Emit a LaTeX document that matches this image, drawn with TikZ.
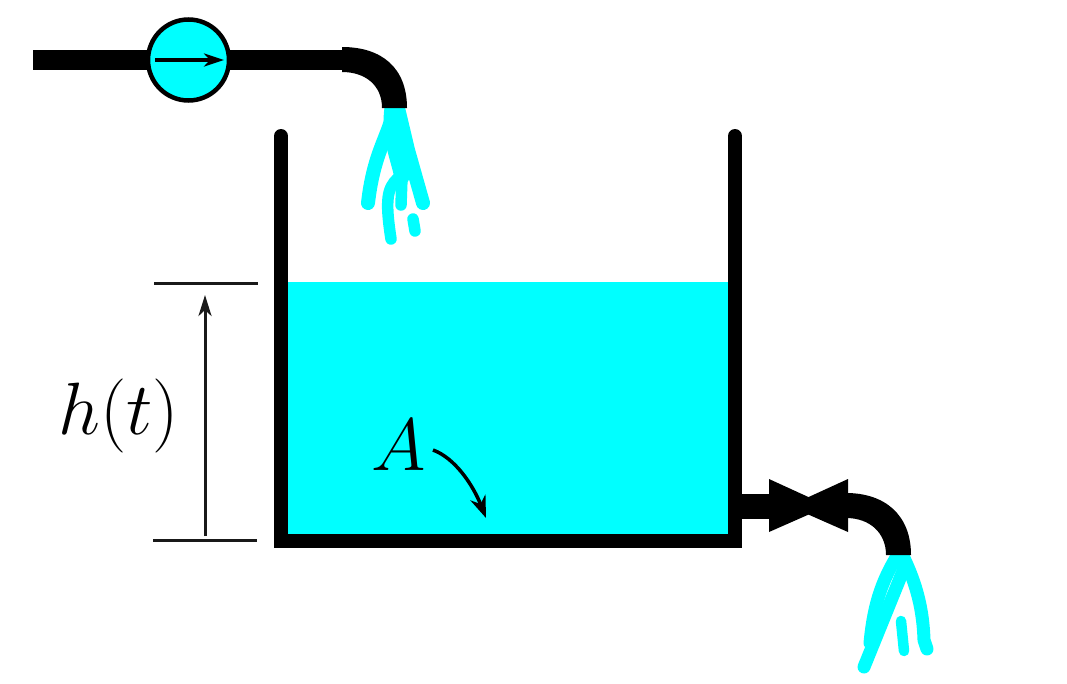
\documentclass[tikz,border=0pt]{standalone}
\usetikzlibrary{arrows.meta}
\definecolor{aqua}{RGB}{0,255,255}
\tikzset{
  pipe/.style={line width=20.5pt},
  solid black/.style={fill=black,draw=none},
  spray/.style={draw=aqua,line width=14pt,line cap=round,line join=round},
  dropspray/.style={draw=aqua,line width=11.5pt,line cap=round,line join=round},
  dimline/.style={line width=3pt,draw=black!90},
  bigmath/.style={inner sep=0pt,font=\Huge,scale=2.98},
}
\begin{document}
\begin{tikzpicture}[x=1pt,y=-1pt]
\useasboundingbox (0,0) rectangle (1067,683);
% water
\fill[aqua] (288,282) rectangle (728,534);
% tank
\coordinate (tl) at (281,136);
\coordinate (bl) at (281,541);
\coordinate (br) at (735,541);
\coordinate (tr) at (735,136);
\draw[line width=14pt,line join=miter,line cap=round] (tl) -- (bl) -- (br) -- (tr);
% inlet spray
\draw[spray] (398,108) -- (408,150) -- (423,203);
\draw[spray] (394,108) .. controls (390,135) and (374,150) .. (368,203);
\draw[spray,line width=15pt] (392,108) .. controls (388,135) and (397,155) .. (402,177);
\draw[dropspray] (402,177) -- (401,205);
\draw[dropspray] (398,178) .. controls (387,188) and (385,200) .. (391,239);
\draw[dropspray] (413,219) -- (415,231);
% inlet pipe
\coordinate (inA) at (33,60);
\coordinate (inB) at (343,60);
\draw[pipe] (inA) -- (inB);
\path[solid black] (342,47) .. controls (382,47) and (407,68) .. (407,108) -- (382,108)
   .. controls (382,85) and (365,72) .. (342,72) -- cycle;
% pump
\node[circle,draw=black,line width=4.5pt,fill=aqua,minimum size=81pt,inner sep=0pt] (pump) at (188.5,60) {};
\coordinate (pa) at (155,60);
\coordinate (pb) at (224,60);
\draw[line width=4.5pt,-{Stealth[length=20pt,width=13pt,inset=6pt]}] (pa) -- (pb);
% outlet spray
\draw[spray,line width=13pt] (897,556) .. controls (884,578) and (874,600) .. (870,643);
\draw[spray,line width=13pt] (905,566) -- (864,667);
\draw[spray,line width=13pt] (903,556) .. controls (917,585) and (923,610) .. (924,640) -- (927,649);
\draw[dropspray,line width=10.5pt] (901,621) -- (904,651);
% outlet pipe
\coordinate (outA) at (742,506);
\coordinate (outB) at (775,506);
\draw[line width=25pt] (outA) -- (outB);
\path[solid black] (846,493) .. controls (885,493) and (911,515) .. (911,555) -- (886,555)
   .. controls (886,533) and (870,518) .. (846,518) -- cycle;
% valve
\path[solid black] (769,479) -- (769,532) -- (828,506) -- cycle;
\path[solid black] (848,479) -- (848,532) -- (789,506) -- cycle;
% height dimension
\coordinate (d1a) at (154,283);
\coordinate (d1b) at (258,283);
\coordinate (d2a) at (153,540);
\coordinate (d2b) at (257,540);
\coordinate (d3a) at (205,536);
\coordinate (d3b) at (205,295);
\draw[dimline] (d1a) -- (d1b);
\draw[dimline] (d2a) -- (d2b);
\draw[dimline,-{Stealth[length=21pt,width=13pt,inset=6pt]}] (d3a) -- (d3b);
\node[bigmath,anchor=center] (ht) at (118.5,416) {$h(t)$};
% area label
\node[bigmath,anchor=center] (lblA) at (399,445) {$A$};
\coordinate (aa) at (433,450);
\coordinate (ab) at (486,518);
\draw[line width=3.5pt,-{Stealth[length=22pt,width=16pt,inset=7pt]}] (aa) .. controls (455,458) and (473,485) .. (ab);
\end{tikzpicture}
\end{document}
